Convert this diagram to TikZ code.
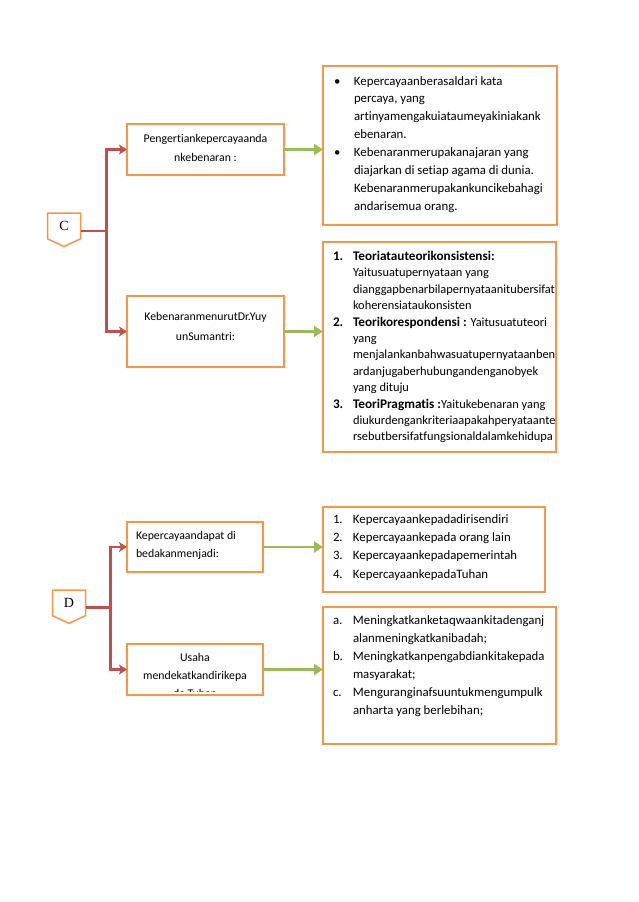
\documentclass[tikz,border=0pt]{standalone}
\usepackage{fontspec}
\setmainfont{Carlito}[Ligatures=CommonOff]
\newfontfamily\tagfont{Liberation Serif}
\usetikzlibrary{arrows.meta,shapes.symbols}

\definecolor{boxorange}{RGB}{247,150,70}
\definecolor{forkred}{RGB}{192,80,77}
\definecolor{leafgreen}{RGB}{155,187,89}

% text block of a box: width, height, left pad, top pad, lines
\newcommand{\boxtext}[5]{\parbox[c][#2][t]{#1}{\raggedright\leftskip=#3\rightskip=-15pt plus 1fil\parskip=0pt\vspace*{#4}\strut#5}}
\newcommand{\li}[1]{\makebox[20pt][l]{#1}}
\newcommand{\ind}{\hspace*{20pt}}
\newcommand{\hd}[1]{{\fontsize{13.2}{16.4}\selectfont\bfseries #1}}

\begin{document}
\begin{tikzpicture}[x=1pt,y=-1pt,
	frame/.style={draw=boxorange, line width=1.5pt, inner sep=0pt, outer sep=0pt, anchor=north west, font=\fontsize{11.8}{17.9}\selectfont},
	tag/.style={signal, signal to=south, signal pointer angle=130, draw=boxorange, line width=1.5pt, inner sep=0pt, outer sep=0pt, anchor=north, minimum width=33pt, minimum height=28pt, font=\tagfont\fontsize{14}{14}\selectfont},
	fork/.style={draw=forkred, line width=2.4pt},
	branch/.style={fork, -{Stealth[length=8pt,width=10pt,inset=2pt]}},
	leaf/.style={draw=leafgreen, line width=2.6pt, -{Triangle[length=9pt,width=11pt]}}]
	\useasboundingbox (0,0) rectangle (638,902);
	
	% part C
	\node[tag] (tagC) at (64,213) {C};
	\node[frame, font=\fontsize{11.8}{19}\selectfont] (pengertian) at (127,124) {\boxtext{157pt}{51pt}{0pt}{4.7pt}{\centering Pengertiankepercayaanda\\nkebenaran :}};
	\node[frame, font=\fontsize{11.8}{20}\selectfont] (menurut) at (127,296) {\boxtext{157pt}{71pt}{0pt}{10.7pt}{\centering KebenaranmenurutDr.Yuy\\unSumantri:}};
	
	\node[frame, font=\fontsize{12.8}{17.9}\selectfont] (artiList) at (323,66) {\boxtext{234pt}{159pt}{11pt}{6.5pt}{%
		\li{\textbullet}Kepercayaanberasaldari kata\\
		\ind percaya, yang\\
		\ind artinyamengakuiataumeyakiniakank\\
		\ind ebenaran.\\
		\li{\textbullet}Kebenaranmerupakanajaran yang\\
		\ind diajarkan di setiap agama di dunia.\\
		\ind Kebenaranmerupakankuncikebahagi\\
		\ind andarisemua orang.}};
	\node[frame, font=\fontsize{12.4}{16.4}\selectfont] (teoriList) at (323,242) {\boxtext{233pt}{210pt}{10pt}{7pt}{%
		\li{\hd{1.}}\hd{Teoriatauteorikonsistensi:}\\
		\ind Yaitusuatupernyataan yang\\
		\ind dianggapbenarbilapernyataanitubersifat\\
		\ind koherensiataukonsisten\\
		\li{\hd{2.}}\hd{Teorikorespondensi :} Yaitusuatuteori\\
		\ind yang\\
		\ind menjalankanbahwasuatupernyataanben\\
		\ind ardanjugaberhubungandenganobyek\\
		\ind yang dituju\\
		\li{\hd{3.}}\hd{TeoriPragmatis :}Yaitukebenaran yang\\
		\ind diukurdengankriteriaapakahperyataante\\
		\ind rsebutbersifatfungsionaldalamkehidupa}};
	
	\draw[fork] ([yshift=-5pt]tagC.east) -- ++(26,0) coordinate (forkC);
	\draw[branch] (forkC) |- (pengertian.west);
	\draw[branch] (forkC) |- (menurut.west);
	\draw[leaf] (pengertian.east) -- (pengertian.east -| artiList.west);
	\draw[leaf] (menurut.east) -- (menurut.east -| teoriList.west);
	
	% part D
	\node[tag] (tagD) at (69,590) {D};
	\node[frame, font=\fontsize{11.8}{18.3}\selectfont] (jenis) at (127,522) {\boxtext{136pt}{50pt}{9pt}{4.2pt}{Kepercayaandapat di\\bedakanmenjadi:}};
	\node[frame, minimum width=136pt, minimum height=51pt] (usaha) at (127,644) {};
	\begin{scope}
		\clip (usaha.north west) rectangle ([yshift=4pt]usaha.south east);
		\node[frame, draw=none, font=\fontsize{11.8}{18.3}\selectfont] (usahaText) at (usaha.north west) {\boxtext{136pt}{51pt}{0pt}{4.2pt}{\centering Usaha\\mendekatkandirikepa\\da Tuhan}};
	\end{scope}
	
	\node[frame, font=\fontsize{12.8}{18.3}\selectfont] (dirList) at (323,507) {\boxtext{222pt}{85pt}{10pt}{3.5pt}{%
		\li{1.}Kepercayaankepadadirisendiri\\
		\li{2.}Kepercayaankepada orang lain\\
		\li{3.}Kepercayaankepadapemerintah\\
		\li{4.}KepercayaankepadaTuhan}};
	\node[frame, font=\fontsize{12.8}{18}\selectfont] (usahaList) at (323,607) {\boxtext{233pt}{137pt}{10pt}{5.2pt}{%
		\li{a.}Meningkatkanketaqwaankitadenganj\\
		\ind alanmeningkatkanibadah;\\
		\li{b.}Meningkatkanpengabdiankitakepada\\
		\ind masyarakat;\\
		\li{c.}Menguranginafsuuntukmengumpulk\\
		\ind anharta yang berlebihan;}};
	
	\draw[fork] ([yshift=-4.5pt]tagD.east) -- ++(25,0) coordinate (forkD);
	\draw[branch] (forkD) |- (jenis.west);
	\draw[branch] (forkD) |- (usaha.west);
	\draw[leaf] (jenis.east) -- (jenis.east -| dirList.west);
	\draw[leaf] (usaha.east) -- (usaha.east -| usahaList.west);
\end{tikzpicture}
\end{document}
